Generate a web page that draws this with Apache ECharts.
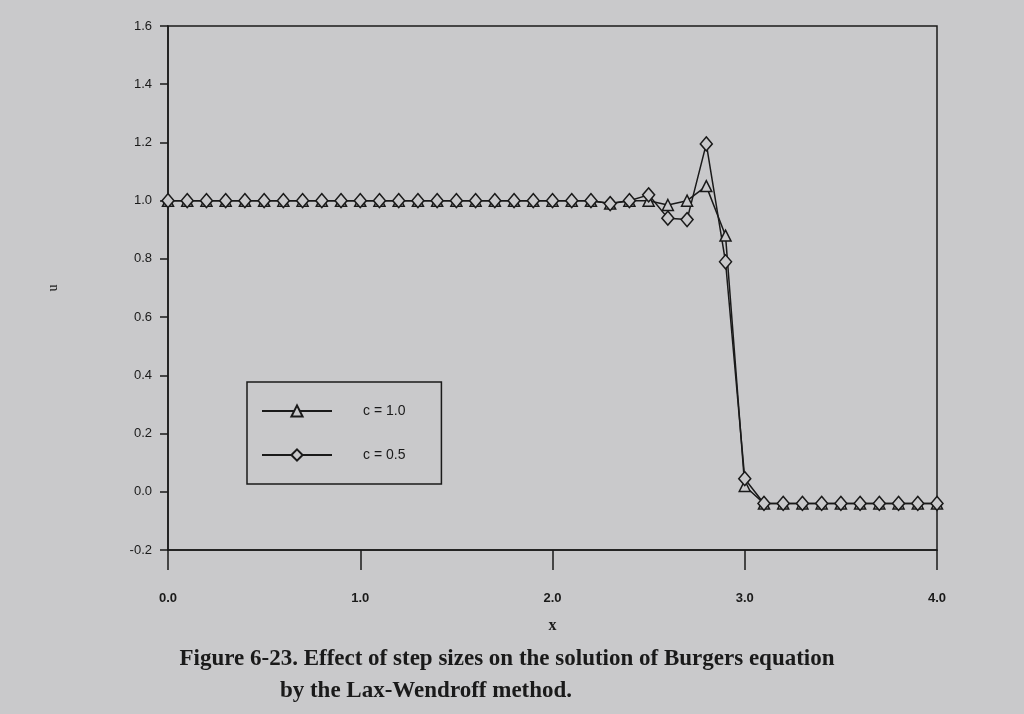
<!DOCTYPE html><html><head><meta charset="utf-8">
<script src="https://cdn.jsdelivr.net/npm/echarts@6/dist/echarts.min.js"></script>
<style>html,body{margin:0;background:#c9c9cb;}#c{width:1024px;height:714px;}</style></head><body><div id="c"></div>
<script>
const xs=[0,0.1,0.2,0.3,0.4,0.5,0.6,0.7,0.8,0.9,1.0,1.1,1.2,1.3,1.4,1.5,1.6,1.7,1.8,1.9,2.0,2.1,2.2,2.3,2.4,2.5,2.6,2.7,2.8,2.9,3.0,3.1,3.2,3.3,3.4,3.5,3.6,3.7,3.8,3.9,4.0];
const uC10=[1,1,1,1,1,1,1,1,1,1,1,1,1,1,1,1,1,1,1,1,1,1,1,0.99,1,1,0.985,1.0,1.05,0.88,0.02,-0.04,-0.04,-0.04,-0.04,-0.04,-0.04,-0.04,-0.04,-0.04,-0.04];
const uC05=[1,1,1,1,1,1,1,1,1,1,1,1,1,1,1,1,1,1,1,1,1,1,1,0.99,1,1.02,0.94,0.935,1.195,0.79,0.045,-0.04,-0.04,-0.04,-0.04,-0.04,-0.04,-0.04,-0.04,-0.04,-0.04];
const ink='#1a1a1a',font='Liberation Serif';
const pair=a=>xs.map((x,i)=>[x,a[i]]);
const ch=echarts.init(document.getElementById('c'));
ch.setOption({backgroundColor:'#c9c9cb',animation:false,
grid:{left:168,right:87,top:26,bottom:164,show:true,borderColor:ink,borderWidth:1.5},
legend:{left:247,top:382,orient:'vertical',itemWidth:70,itemHeight:14,itemGap:30,padding:[22,36,22,14],
 borderColor:ink,borderWidth:1.5,backgroundColor:'#c9c9cb',textStyle:{fontFamily:'Liberation Sans',fontSize:14,color:ink,padding:[0,0,0,26]},
 data:[{name:'c = 1.0'},{name:'c = 0.5'}]},
xAxis:{type:'value',min:0,max:4,interval:1,name:'x',nameLocation:'middle',nameGap:68,
 nameTextStyle:{fontFamily:font,fontWeight:'bold',fontSize:16,color:ink},
 axisLine:{onZero:false,lineStyle:{color:ink,width:1.5}},axisTick:{inside:false,length:20,lineStyle:{color:ink,width:1.5}},
 axisLabel:{formatter:v=>v.toFixed(1),fontFamily:'Liberation Sans',fontWeight:'bold',fontSize:13,color:ink,margin:42},splitLine:{show:false}},
yAxis:{type:'value',min:-0.2,max:1.6,interval:0.2,name:'u',nameLocation:'middle',nameGap:108,nameRotate:90,
 nameTextStyle:{fontFamily:font,fontSize:14,color:ink},
 axisLine:{lineStyle:{color:ink,width:1.5}},axisTick:{length:8,lineStyle:{color:ink,width:1.5}},
 axisLabel:{formatter:v=>v.toFixed(1),fontFamily:'Liberation Sans',fontSize:13,color:ink,margin:16},splitLine:{show:false}},
series:[
 {name:'c = 1.0',type:'line',data:pair(uC10),symbol:'triangle',symbolSize:11,
  lineStyle:{color:ink,width:1.5},itemStyle:{color:'#c9c9cb',borderColor:ink,borderWidth:1.5}},
 {name:'c = 0.5',type:'line',data:pair(uC05),symbol:'diamond',symbolSize:[12,14],
  lineStyle:{color:ink,width:1.5},itemStyle:{color:'#c9c9cb',borderColor:ink,borderWidth:1.5}}
],
graphic:[
 {type:'text',x:507,y:648,style:{text:'Figure 6-23. Effect of step sizes on the solution of Burgers equation',font:'bold 23px "Liberation Serif"',fill:ink,align:'center'}},
 {type:'text',x:426,y:680,style:{text:'by the Lax-Wendroff method.',font:'bold 23px "Liberation Serif"',fill:ink,align:'center'}}
]
});
</script></body></html>
